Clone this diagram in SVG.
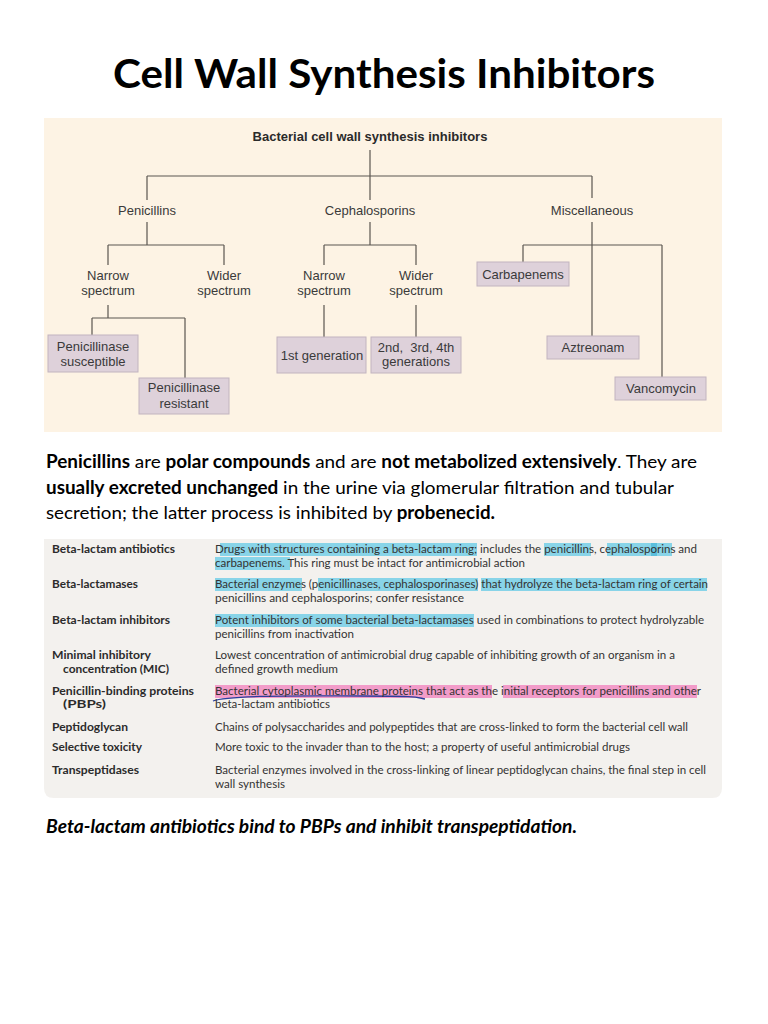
<svg xmlns="http://www.w3.org/2000/svg" width="768" height="1024" viewBox="0 0 768 1024">
<style>
.title{font-family:Lato,"Liberation Sans",sans-serif;font-weight:bold;font-size:40px;fill:#000}
.t{font-family:"Liberation Sans",Arial,sans-serif;font-size:13px;fill:#3a3a3a;text-anchor:middle}
.tb{font-family:"Liberation Sans",Arial,sans-serif;font-size:13px;font-weight:bold;fill:#2a2a2a;text-anchor:middle}
.box{fill:#ded1da;stroke:#c2b4bf;stroke-width:1}
.ln{stroke:#5b5650;stroke-width:1.2;fill:none}
.p{font-family:Lato,"Liberation Sans",sans-serif;font-size:18px;fill:#000}
.b{font-weight:bold}
.lab{font-family:Lato,"Liberation Sans",sans-serif;font-size:11.5px;font-weight:bold;fill:#2b2b2b}
.def{font-family:Lato,"Liberation Sans",sans-serif;font-size:11.5px;fill:#333}
.hb{fill:#88d4e8}
.hbd{fill:#5bbfdc}
.hp{fill:#f29cc9}
</style>

<text class="title" x="113" y="88" textLength="542" lengthAdjust="spacingAndGlyphs">Cell Wall Synthesis Inhibitors</text>

<rect x="44" y="118" width="678" height="314" fill="#fdf3e4"/>

<g id="connectors">
<path class="ln" d="M370,150 V200 M147,176 H592 M147,176 V200 M592,176 V198"/>
<path class="ln" d="M147,222 V245 M108,245 H224 M108,245 V265 M224,245 V265"/>
<path class="ln" d="M370,222 V245 M324,245 H416 M324,245 V265 M416,245 V265"/>
<path class="ln" d="M592,222 V336 M523,245 H662 M523,245 V262 M662,245 V377"/>
<path class="ln" d="M108,305 V318 M92,318 H185 M92,318 V335 M185,318 V378"/>
<path class="ln" d="M324,305 V337 M416,305 V337"/>
</g>

<g id="root"><text class="tb" x="370" y="141">Bacterial cell wall synthesis inhibitors</text></g>
<g id="penicillins"><text class="t" x="147" y="215">Penicillins</text></g>
<g id="cephalosporins"><text class="t" x="370" y="215">Cephalosporins</text></g>
<g id="miscellaneous"><text class="t" x="592" y="215">Miscellaneous</text></g>
<g id="pen-narrow"><text class="t" x="108" y="280">Narrow</text><text class="t" x="108" y="295">spectrum</text></g>
<g id="pen-wider"><text class="t" x="224" y="280">Wider</text><text class="t" x="224" y="295">spectrum</text></g>
<g id="ceph-narrow"><text class="t" x="324" y="280">Narrow</text><text class="t" x="324" y="295">spectrum</text></g>
<g id="ceph-wider"><text class="t" x="416" y="280">Wider</text><text class="t" x="416" y="295">spectrum</text></g>
<g id="pen-susceptible"><rect class="box" x="48" y="335" width="90" height="37"/><text class="t" x="93" y="351">Penicillinase</text><text class="t" x="93" y="366">susceptible</text></g>
<g id="pen-resistant"><rect class="box" x="139" y="378" width="90" height="36"/><text class="t" x="184" y="392">Penicillinase</text><text class="t" x="184" y="408">resistant</text></g>
<g id="first-gen"><rect class="box" x="277" y="337" width="89" height="36"/><text class="t" x="322" y="360">1st generation</text></g>
<g id="later-gen"><rect class="box" x="371" y="337" width="90" height="36"/><text class="t" x="416" y="352" xml:space="preserve">2nd,  3rd, 4th</text><text class="t" x="416" y="366">generations</text></g>
<g id="carbapenems"><rect class="box" x="477" y="262" width="92" height="24"/><text class="t" x="523" y="279">Carbapenems</text></g>
<g id="aztreonam"><rect class="box" x="547" y="336" width="92" height="23"/><text class="t" x="593" y="352">Aztreonam</text></g>
<g id="vancomycin"><rect class="box" x="615" y="377" width="91" height="23"/><text class="t" x="661" y="393">Vancomycin</text></g>

<g id="paragraph">
<text class="p" x="46" y="468" textLength="651" lengthAdjust="spacingAndGlyphs"><tspan class="b">Penicillins</tspan> are <tspan class="b">polar compounds</tspan> and are <tspan class="b">not metabolized extensively</tspan>. They are</text>
<text class="p" x="46" y="494" textLength="628" lengthAdjust="spacingAndGlyphs"><tspan class="b">usually excreted unchanged</tspan> in the urine via glomerular filtration and tubular</text>
<text class="p" x="46" y="519" textLength="449" lengthAdjust="spacingAndGlyphs">secretion; the latter process is inhibited by <tspan class="b">probenecid.</tspan></text>
</g>

<g id="table">
<path d="M44,539 H722 V788 Q722,798 712,798 H54 Q44,798 44,788 Z" fill="#f3f1ee"/>
<rect class="hb" x="220" y="543" width="257" height="13"/>
<rect class="hb" x="544" y="543" width="47" height="13"/>
<rect class="hb" x="607" y="543" width="44" height="13"/>
<rect class="hbd" x="651" y="543" width="6" height="13"/>
<rect class="hb" x="657" y="543" width="15" height="13"/>
<rect class="hb" x="215" y="557" width="75" height="13"/>
<rect class="hb" x="215" y="578" width="87" height="13"/>
<rect class="hb" x="318" y="578" width="160" height="13"/>
<rect class="hb" x="481" y="578" width="226" height="13"/>
<rect class="hb" x="215" y="614" width="259" height="13"/>
<rect class="hp" x="215" y="685" width="277" height="13"/>
<rect class="hp" x="503" y="685" width="194" height="13"/>
<path d="M213,701 C228,695 300,696 360,696 S415,697 425,699" fill="none" stroke="#2b3d9c" stroke-width="1.3"/>

<text class="lab" x="52" y="553" textLength="123" lengthAdjust="spacingAndGlyphs">Beta-lactam antibiotics</text>
<text class="lab" x="52" y="588" textLength="86" lengthAdjust="spacingAndGlyphs">Beta-lactamases</text>
<text class="lab" x="52" y="624" textLength="118" lengthAdjust="spacingAndGlyphs">Beta-lactam inhibitors</text>
<text class="lab" x="52" y="659" textLength="99" lengthAdjust="spacingAndGlyphs">Minimal inhibitory</text>
<text class="lab" x="63" y="673" textLength="106" lengthAdjust="spacingAndGlyphs">concentration (MIC)</text>
<text class="lab" x="52" y="695" textLength="142" lengthAdjust="spacingAndGlyphs">Penicillin-binding proteins</text>
<text class="lab" x="63" y="708" textLength="43" lengthAdjust="spacingAndGlyphs">(PBPs)</text>
<text class="lab" x="52" y="731" textLength="76" lengthAdjust="spacingAndGlyphs">Peptidoglycan</text>
<text class="lab" x="52" y="751" textLength="90" lengthAdjust="spacingAndGlyphs">Selective toxicity</text>
<text class="lab" x="52" y="774" textLength="87" lengthAdjust="spacingAndGlyphs">Transpeptidases</text>

<text class="def" x="215" y="553" textLength="482" lengthAdjust="spacingAndGlyphs">Drugs with structures containing a beta-lactam ring; includes the penicillins, cephalosporins and</text>
<text class="def" x="215" y="567" textLength="310" lengthAdjust="spacingAndGlyphs">carbapenems. This ring must be intact for antimicrobial action</text>
<text class="def" x="215" y="588" textLength="493" lengthAdjust="spacingAndGlyphs">Bacterial enzymes (penicillinases, cephalosporinases) that hydrolyze the beta-lactam ring of certain</text>
<text class="def" x="215" y="602" textLength="249" lengthAdjust="spacingAndGlyphs">penicillins and cephalosporins; confer resistance</text>
<text class="def" x="215" y="624" textLength="489" lengthAdjust="spacingAndGlyphs">Potent inhibitors of some bacterial beta-lactamases used in combinations to protect hydrolyzable</text>
<text class="def" x="215" y="638" textLength="139" lengthAdjust="spacingAndGlyphs">penicillins from inactivation</text>
<text class="def" x="215" y="659" textLength="460" lengthAdjust="spacingAndGlyphs">Lowest concentration of antimicrobial drug capable of inhibiting growth of an organism in a</text>
<text class="def" x="215" y="673" textLength="123" lengthAdjust="spacingAndGlyphs">defined growth medium</text>
<text class="def" x="215" y="695" textLength="486" lengthAdjust="spacingAndGlyphs">Bacterial cytoplasmic membrane proteins that act as the initial receptors for penicillins and other</text>
<text class="def" x="215" y="708" textLength="115" lengthAdjust="spacingAndGlyphs">beta-lactam antibiotics</text>
<text class="def" x="215" y="731" textLength="473" lengthAdjust="spacingAndGlyphs">Chains of polysaccharides and polypeptides that are cross-linked to form the bacterial cell wall</text>
<text class="def" x="215" y="751" textLength="415" lengthAdjust="spacingAndGlyphs">More toxic to the invader than to the host; a property of useful antimicrobial drugs</text>
<text class="def" x="215" y="774" textLength="491" lengthAdjust="spacingAndGlyphs">Bacterial enzymes involved in the cross-linking of linear peptidoglycan chains, the final step in cell</text>
<text class="def" x="215" y="788" textLength="70" lengthAdjust="spacingAndGlyphs">wall synthesis</text>
</g>

<text class="p" x="46" y="833" font-weight="bold" font-style="italic" textLength="531" lengthAdjust="spacingAndGlyphs">Beta-lactam antibiotics bind to PBPs and inhibit transpeptidation.</text>
</svg>
